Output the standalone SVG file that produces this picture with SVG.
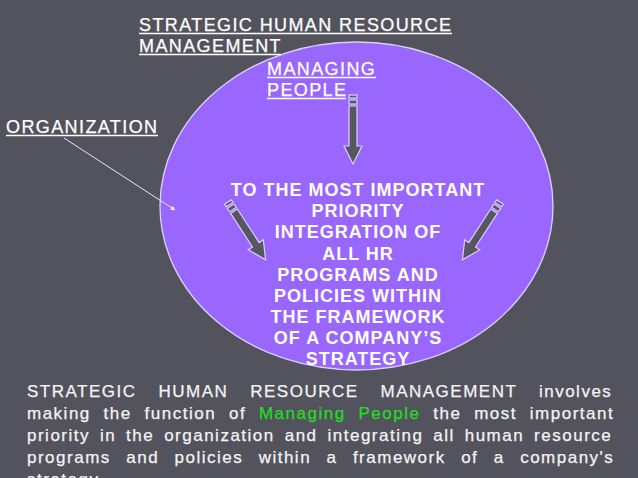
<svg xmlns="http://www.w3.org/2000/svg" xmlns:xlink="http://www.w3.org/1999/xlink" width="638" height="478" viewBox="0 0 638 478">
<style>
.t{font-family:"Liberation Sans",Arial,sans-serif;fill:#ffffff}
.title{font-size:18px;letter-spacing:1.4px;stroke:#ffffff;stroke-width:0.25}
.ctr{font-size:18px;font-weight:bold;letter-spacing:1px;text-anchor:middle}
.para{font-size:17px;letter-spacing:1.5px;fill:#f4f4f4;stroke:#f4f4f4;stroke-width:0.25}
.ul{stroke:#ffffff;stroke-width:1.5}
.pen{fill:#575761;stroke:#dccfff;stroke-width:1.2}
</style>
<defs>
<g id="pencil">
<rect class="pen" x="-4" y="0" width="8" height="3"/>
<rect class="pen" x="-4" y="5" width="8" height="4"/>
<polygon class="pen" points="-4,11 4,11 4,51 9,51 0,69 -9,51 -4,51"/>
</g>
<marker id="ah" viewBox="0 0 10 10" refX="9" refY="5" markerWidth="5" markerHeight="5" orient="auto">
<path d="M0,0 L10,5 L0,10 z" fill="#e8e8ee"/>
</marker>
</defs>
<rect width="638" height="478" fill="#53535d"/>
<g id="ellipse">
<ellipse cx="356.5" cy="206" rx="196.5" ry="164" fill="#9966fe" stroke="#ddd0ff" stroke-width="1.3"/>
</g>
<g id="shrm-title">
<text class="t title" x="139" y="31">STRATEGIC HUMAN RESOURCE</text>
<text class="t title" x="139" y="52">MANAGEMENT</text>
<line class="ul" x1="139" y1="33.5" x2="452" y2="33.5"/>
<line class="ul" x1="139" y1="54.5" x2="281" y2="54.5"/>
</g>
<g id="managing-people">
<text class="t title" x="267" y="75">MANAGING</text>
<text class="t title" x="267" y="96">PEOPLE</text>
<line class="ul" x1="267" y1="77.5" x2="376" y2="77.5"/>
<line class="ul" x1="267" y1="98.5" x2="346" y2="98.5"/>
</g>
<g id="organization">
<text class="t title" x="6" y="133">ORGANIZATION</text>
<line class="ul" x1="6" y1="135.5" x2="158" y2="135.5"/>
</g>
<g id="center-text">
<text class="t ctr" x="358" y="196">TO THE MOST IMPORTANT</text>
<text class="t ctr" x="358" y="217">PRIORITY</text>
<text class="t ctr" x="358" y="238">INTEGRATION OF</text>
<text class="t ctr" x="358" y="260">ALL HR</text>
<text class="t ctr" x="358" y="281">PROGRAMS AND</text>
<text class="t ctr" x="358" y="302">POLICIES WITHIN</text>
<text class="t ctr" x="358" y="323">THE FRAMEWORK</text>
<text class="t ctr" x="358" y="344">OF A COMPANY’S</text>
<text class="t ctr" x="358" y="365">STRATEGY</text>
</g>
<g id="connectors">
<line x1="64" y1="138" x2="175" y2="210" stroke="#e8e8ee" stroke-width="1" marker-end="url(#ah)"/>
<use xlink:href="#pencil" transform="translate(353,95)"/>
<use xlink:href="#pencil" transform="translate(228,202) rotate(-33)"/>
<use xlink:href="#pencil" transform="translate(500,202) rotate(33)"/>
</g>
<g id="paragraph">
<text class="t para" x="27" y="397" word-spacing="15.7">STRATEGIC HUMAN RESOURCE MANAGEMENT involves</text>
<text class="t para" x="27" y="419" word-spacing="6.6">making the function of <tspan fill="#22dd22" stroke="#22dd22">Managing People</tspan> the most important</text>
<text class="t para" x="27" y="441" word-spacing="3.7">priority in the organization and integrating all human resource</text>
<text class="t para" x="27" y="463" word-spacing="9.2">programs and policies within a framework of a company's</text>
<text class="t para" x="27" y="485">strategy</text>
</g>
</svg>
